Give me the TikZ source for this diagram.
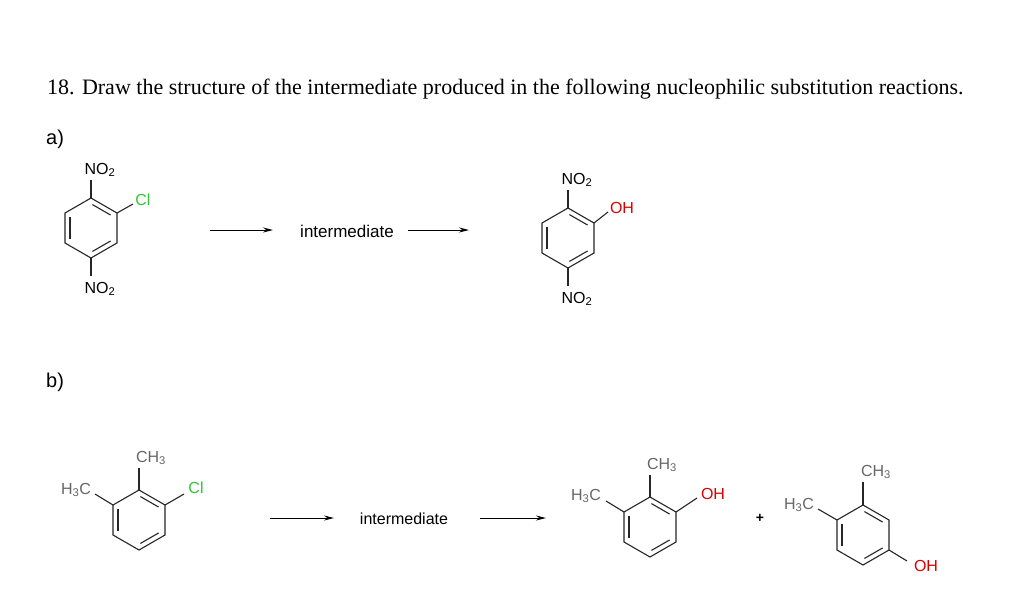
\documentclass[tikz,border=0pt]{standalone}
\usepackage{fontspec}
\setmainfont{Liberation Serif}
\setsansfont{Liberation Sans}
\usetikzlibrary{arrows.meta,calc}
\tikzset{bond/.style={line width=1.1pt,black!85},
 lab/.style={font=\sffamily\fontsize{16}{16}\selectfont,inner sep=1pt},
 glab/.style={lab,text=black!60},
 rxn/.style={line width=1pt,-{Stealth[length=10pt,width=5pt]}}}
\newcommand\hexring[3]{% name, x, y (center), radius 30
 \coordinate (#1t) at (#2,#3-30);
 \coordinate (#1ur) at (#2+26,#3-15);
 \coordinate (#1lr) at (#2+26,#3+15);
 \coordinate (#1b) at (#2,#3+30);
 \coordinate (#1ll) at (#2-26,#3+15);
 \coordinate (#1ul) at (#2-26,#3-15);
 \draw[bond] (#1t)--(#1ur)--(#1lr)--(#1b)--(#1ll)--(#1ul)--cycle;
 \draw[bond] ($(#1t)!0.15!(#1ur)+(-2.5,4.3)$)--($(#1ur)!0.15!(#1t)+(-2.5,4.3)$);
 \draw[bond] (#2-21,#3-11)--(#2-21,#3+11);
 \draw[bond] ($(#1b)!0.15!(#1lr)+(-2.5,-4.3)$)--($(#1lr)!0.15!(#1b)+(-2.5,-4.3)$);
}
\begin{document}
\begin{tikzpicture}[x=1pt,y=-1pt]
\useasboundingbox[fill=white] (0,0) rectangle (1030,600);
\node[anchor=west,font=\fontsize{22}{22}\selectfont,inner sep=0] (title) at (47,89) {18. Draw the structure of the intermediate produced in the following nucleophilic substitution reactions.};
\node[anchor=west,font=\sffamily\fontsize{20}{20}\selectfont,inner sep=0] (la) at (46,139) {a)};
\node[anchor=west,font=\sffamily\fontsize{20}{20}\selectfont,inner sep=0] (lb) at (46,382) {b)};
% a reactant
\hexring{A}{91}{228}
\node[lab] (a1) at (100,170) {NO\textsubscript{2}};
\node[lab] (a2) at (100,289) {NO\textsubscript{2}};
\node[lab,text=green!70!black!80!white] (a3) at (143,200) {Cl};
\draw[bond] (At)--(91,180); \draw[bond] (Ab)--(91,276); \draw[bond] (Aur)--(133,204);
% a product
\hexring{P}{568}{238}
\node[lab] (p1) at (577,180) {NO\textsubscript{2}};
\node[lab] (p2) at (577,299) {NO\textsubscript{2}};
\node[lab,text=red!85!black] (p3) at (622,208) {OH};
\draw[bond] (Pt)--(568,190); \draw[bond] (Pb)--(568,286); \draw[bond] (Pur)--(608,212);
% a arrows
\coordinate (a1s) at (210,230); \coordinate (a1e) at (273,230);
\draw[rxn] (a1s)--(a1e);
\node[font=\sffamily\fontsize{17}{17}\selectfont] (ia) at (347,231) {intermediate};
\coordinate (a2s) at (408,230); \coordinate (a2e) at (469,230);
\draw[rxn] (a2s)--(a2e);
% b reactant
\hexring{B}{139}{520}
\node[glab] (b1) at (151,458) {CH\textsubscript{3}};
\node[glab] (b2) at (76,490) {H\textsubscript{3}C};
\node[lab,text=green!70!black!80!white] (b3) at (196,488) {Cl};
\draw[bond] (Bt)--(139,468); \draw[bond] (Bul)--(95,494); \draw[bond] (Bur)--(184,494);
% b product 1
\hexring{Q}{650}{527}
\node[glab] (q1) at (662,465) {CH\textsubscript{3}};
\node[glab] (q2) at (586,496) {H\textsubscript{3}C};
\node[lab,text=red!85!black] (q3) at (713,494) {OH};
\draw[bond] (Qt)--(650,475); \draw[bond] (Qul)--(606,501); \draw[bond] (Qur)--(697,498);
% plus
\node[font=\sffamily\bfseries\fontsize{14}{14}\selectfont] (plus) at (760,518) {+};
% b product 2
\hexring{R}{863}{535}
\node[glab] (r1) at (876,472) {CH\textsubscript{3}};
\node[glab] (r2) at (799,505) {H\textsubscript{3}C};
\node[lab,text=red!85!black] (r3) at (926,566) {OH};
\draw[bond] (Rt)--(863,482); \draw[bond] (Rul)--(818,509); \draw[bond] (Rlr)--(907,561);
% b arrows
\coordinate (b1s) at (270,518); \coordinate (b1e) at (334,518);
\draw[rxn] (b1s)--(b1e);
\node[font=\sffamily\fontsize{16}{16}\selectfont] (ib) at (404,519) {intermediate};
\coordinate (b2s) at (480,518); \coordinate (b2e) at (546,518);
\draw[rxn] (b2s)--(b2e);
\end{tikzpicture}
\end{document}
